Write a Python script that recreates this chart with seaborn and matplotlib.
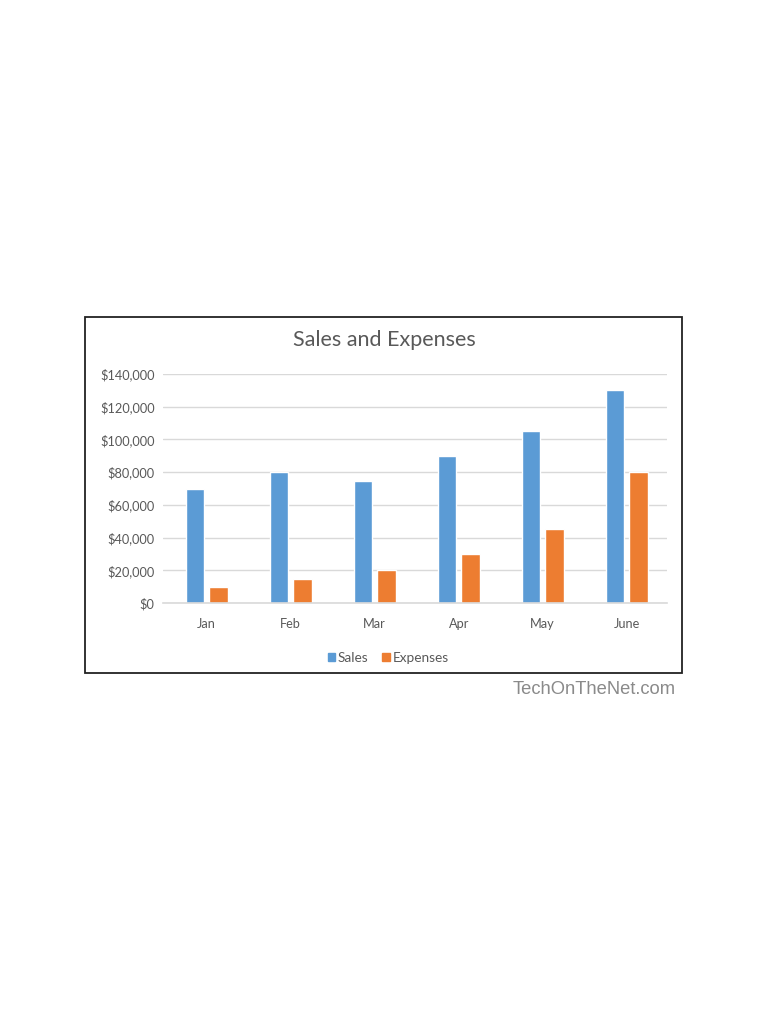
import matplotlib.pyplot as plt
import matplotlib.patches as mpatches
import matplotlib.ticker as mticker
import pandas as pd
import seaborn as sns

meses = ['Jan', 'Feb', 'Mar', 'Apr', 'May', 'June']
sales = [70000, 80000, 74500, 90000, 105000, 130000]
expenses = [10000, 14500, 20000, 30000, 45000, 80000]
series = ['Sales', 'Expenses']
colores = ['#5B9BD5', '#ED7D31']

df = pd.DataFrame({'Mes': meses * 2,
                   'Serie': ['Sales'] * len(meses) + ['Expenses'] * len(meses),
                   'Valor': sales + expenses})

sns.set_style('white')
plt.rcParams['font.family'] = ['Lato', 'DejaVu Sans']
gris = '#595959'

fig = plt.figure(figsize=(7.68, 10.24), dpi=100)
ax = fig.add_axes([163 / 768, 1 - 603 / 1024, 504 / 768, 229 / 1024])

sns.barplot(data=df, x='Mes', y='Valor', hue='Serie', hue_order=series,
            palette=colores, width=0.56, gap=0.21, saturation=1, ax=ax)

ax.set_xlim(-0.52, 5.48)
ax.set_ylim(0, 140000)
ax.yaxis.set_major_locator(mticker.MultipleLocator(20000))
ax.yaxis.set_major_formatter(mticker.FuncFormatter(lambda v, p: f'${v:,.0f}'))
ax.grid(axis='y', color='#d9d9d9', linewidth=1)
ax.set_axisbelow(True)
for s in ['top', 'right', 'left']:
    ax.spines[s].set_visible(False)
ax.spines['bottom'].set_color('#d9d9d9')
ax.spines['bottom'].set_linewidth(1.2)
ax.tick_params(axis='both', length=0, labelsize=9.2, labelcolor=gris)
ax.tick_params(axis='x', pad=11)
ax.tick_params(axis='y', pad=6)
ax.set(xlabel='', ylabel='')
ax.get_legend().remove()

fig.text(384 / 768, 1 - 340 / 1024, 'Sales and Expenses', ha='center', va='center',
         fontsize=15.5, color=gris)

handles = [mpatches.Patch(color=c, label=s) for c, s in zip(colores, series)]
fig.legend(handles=handles, loc='center', bbox_to_anchor=(388 / 768, 1 - 658 / 1024),
           ncol=2, frameon=False, handlelength=0.55, handleheight=0.55,
           handletextpad=0.2, columnspacing=1.0, prop={'size': 9.8},
           labelcolor=gris)

caja = mpatches.Rectangle((85 / 768, 1 - 673 / 1024), 597 / 768, 356 / 1024,
                          transform=fig.transFigure, fill=False,
                          edgecolor='#222222', linewidth=1.3)
fig.patches.append(caja)

fig.text(676 / 768, 1 - 690 / 1024, 'TechOnTheNet.com', ha='right', va='center',
         fontsize=13.2, color='#8a8a8a', family=['Liberation Sans', 'DejaVu Sans'])

fig.savefig('out.png', dpi=100, facecolor='white')
